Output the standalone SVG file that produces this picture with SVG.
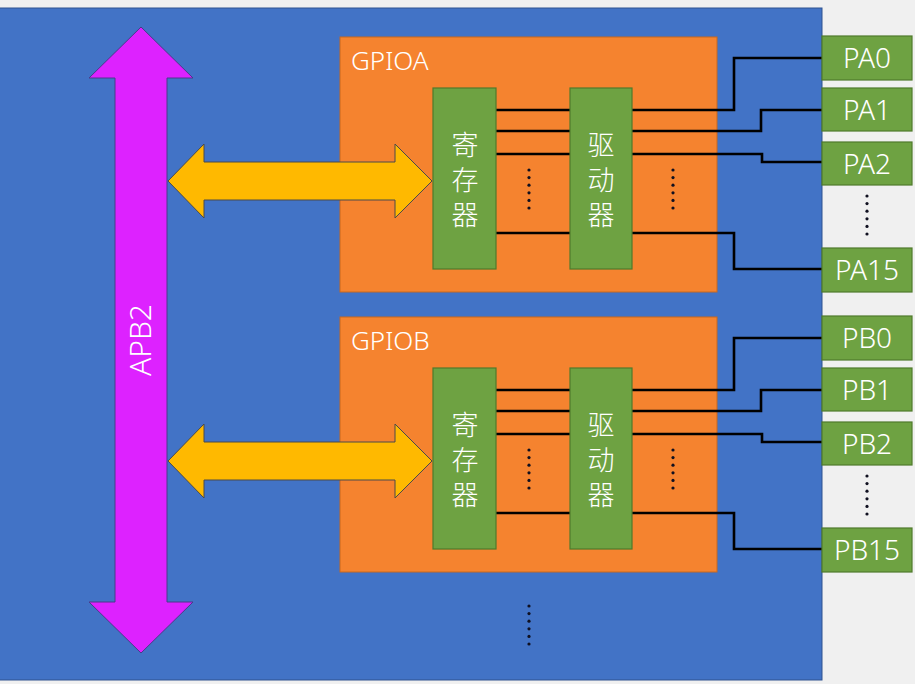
<svg xmlns="http://www.w3.org/2000/svg" width="915" height="684" viewBox="0 0 915 684">
<style>
.bg{fill:#f0f0f0}
.chip{fill:#4273c6;stroke:#2f528f;stroke-width:1}
.gpio{fill:#f5832f;stroke:#c8681f;stroke-width:1}
.blk{fill:#6ea242;stroke:#4f7a2c;stroke-width:1.2}
.pin{fill:#6ea242;stroke:#4f7a2c;stroke-width:1.2}
.bus{fill:#dd22ff;stroke:#4a3a8a;stroke-width:1}
.yel{fill:#ffb900;stroke:#4a4a4a;stroke-width:1}
.wire{fill:none;stroke:#000;stroke-width:2.6}
.t{font-family:"Noto Sans","Noto Sans CJK SC",sans-serif;fill:#fff;font-weight:300}
.cjk{font-family:"Noto Sans CJK SC",sans-serif;fill:#fff;font-size:27px;font-weight:300;text-anchor:middle}
.pt{font-size:28px;text-anchor:middle}
.dot{fill:#101020}
</style>
<defs>
<g id="dots6">
<circle class="dot" cx="0" cy="0" r="1.6"/>
<circle class="dot" cx="0" cy="7.6" r="1.6"/>
<circle class="dot" cx="0" cy="15.2" r="1.6"/>
<circle class="dot" cx="0" cy="22.8" r="1.6"/>
<circle class="dot" cx="0" cy="30.4" r="1.6"/>
<circle class="dot" cx="0" cy="38" r="1.6"/>
</g>
</defs>
<rect class="bg" x="0" y="0" width="915" height="684"/>
<g id="chip">
<rect class="chip" x="-1" y="8" width="823" height="672"/>
</g>
<g id="apb2">
<polygon class="bus" points="141,27 193,78 167,78 167,602 193,602 141,653 89,602 115,602 115,78 89,78"/>
<text class="t" x="0" y="0" font-size="30" text-anchor="middle" transform="translate(151,340) rotate(-90)">APB2</text>
</g>
<g id="gpioa">
<rect class="gpio" x="340" y="37" width="377" height="255"/>
<text class="t" x="351" y="70" font-size="26">GPIOA</text>
</g>
<g id="gpiob">
<rect class="gpio" x="340" y="317" width="377" height="255"/>
<text class="t" x="351" y="350" font-size="26">GPIOB</text>
</g>
<g id="connectors">
<polygon class="yel" points="168,181 204,144 204,162 395,162 395,144 432,181 395,218 395,200 204,200 204,218"/>
<polygon class="yel" points="168,461 204,424 204,442 395,442 395,424 432,461 395,498 395,480 204,480 204,498"/>
<path class="wire" d="M496,110H570M496,131H570M496,154H570M496,233H570"/>
<path class="wire" d="M632,110H734V58H822M632,131H761V110H822M632,154H762V162H822M632,233H734V269H822"/>
<path class="wire" d="M496,390H570M496,411H570M496,434H570M496,513H570"/>
<path class="wire" d="M632,390H734V338H822M632,411H761V390H822M632,434H762V442H822M632,513H734V549H822"/>
</g>
<g id="regA">
<rect class="blk" x="433" y="88" width="63" height="181"/>
<text class="cjk" x="465" y="155">寄</text>
<text class="cjk" x="465" y="190">存</text>
<text class="cjk" x="465" y="225">器</text>
</g>
<g id="drvA">
<rect class="blk" x="570" y="88" width="62" height="181"/>
<text class="cjk" x="601" y="155">驱</text>
<text class="cjk" x="601" y="190">动</text>
<text class="cjk" x="601" y="225">器</text>
</g>
<g id="regB">
<rect class="blk" x="433" y="368" width="63" height="181"/>
<text class="cjk" x="465" y="435">寄</text>
<text class="cjk" x="465" y="470">存</text>
<text class="cjk" x="465" y="505">器</text>
</g>
<g id="drvB">
<rect class="blk" x="570" y="368" width="62" height="181"/>
<text class="cjk" x="601" y="435">驱</text>
<text class="cjk" x="601" y="470">动</text>
<text class="cjk" x="601" y="505">器</text>
</g>
<g id="ellipses">
<use href="#dots6" x="529" y="170"/>
<use href="#dots6" x="673" y="170"/>
<use href="#dots6" x="529" y="450"/>
<use href="#dots6" x="673" y="450"/>
<use href="#dots6" x="867" y="196"/>
<use href="#dots6" x="867" y="476"/>
<use href="#dots6" x="529" y="606"/>
</g>
<g id="pinsA">
<rect class="pin" x="822" y="36" width="90" height="44"/>
<text class="t pt" x="867" y="68">PA0</text>
<rect class="pin" x="822" y="88" width="90" height="43"/>
<text class="t pt" x="867" y="120">PA1</text>
<rect class="pin" x="822" y="142" width="90" height="43"/>
<text class="t pt" x="867" y="174">PA2</text>
<rect class="pin" x="822" y="248" width="90" height="44"/>
<text class="t pt" x="867" y="280">PA15</text>
</g>
<g id="pinsB">
<rect class="pin" x="822" y="316" width="90" height="44"/>
<text class="t pt" x="867" y="348">PB0</text>
<rect class="pin" x="822" y="368" width="90" height="43"/>
<text class="t pt" x="867" y="400">PB1</text>
<rect class="pin" x="822" y="422" width="90" height="43"/>
<text class="t pt" x="867" y="454">PB2</text>
<rect class="pin" x="822" y="528" width="90" height="44"/>
<text class="t pt" x="867" y="560">PB15</text>
</g>
</svg>
